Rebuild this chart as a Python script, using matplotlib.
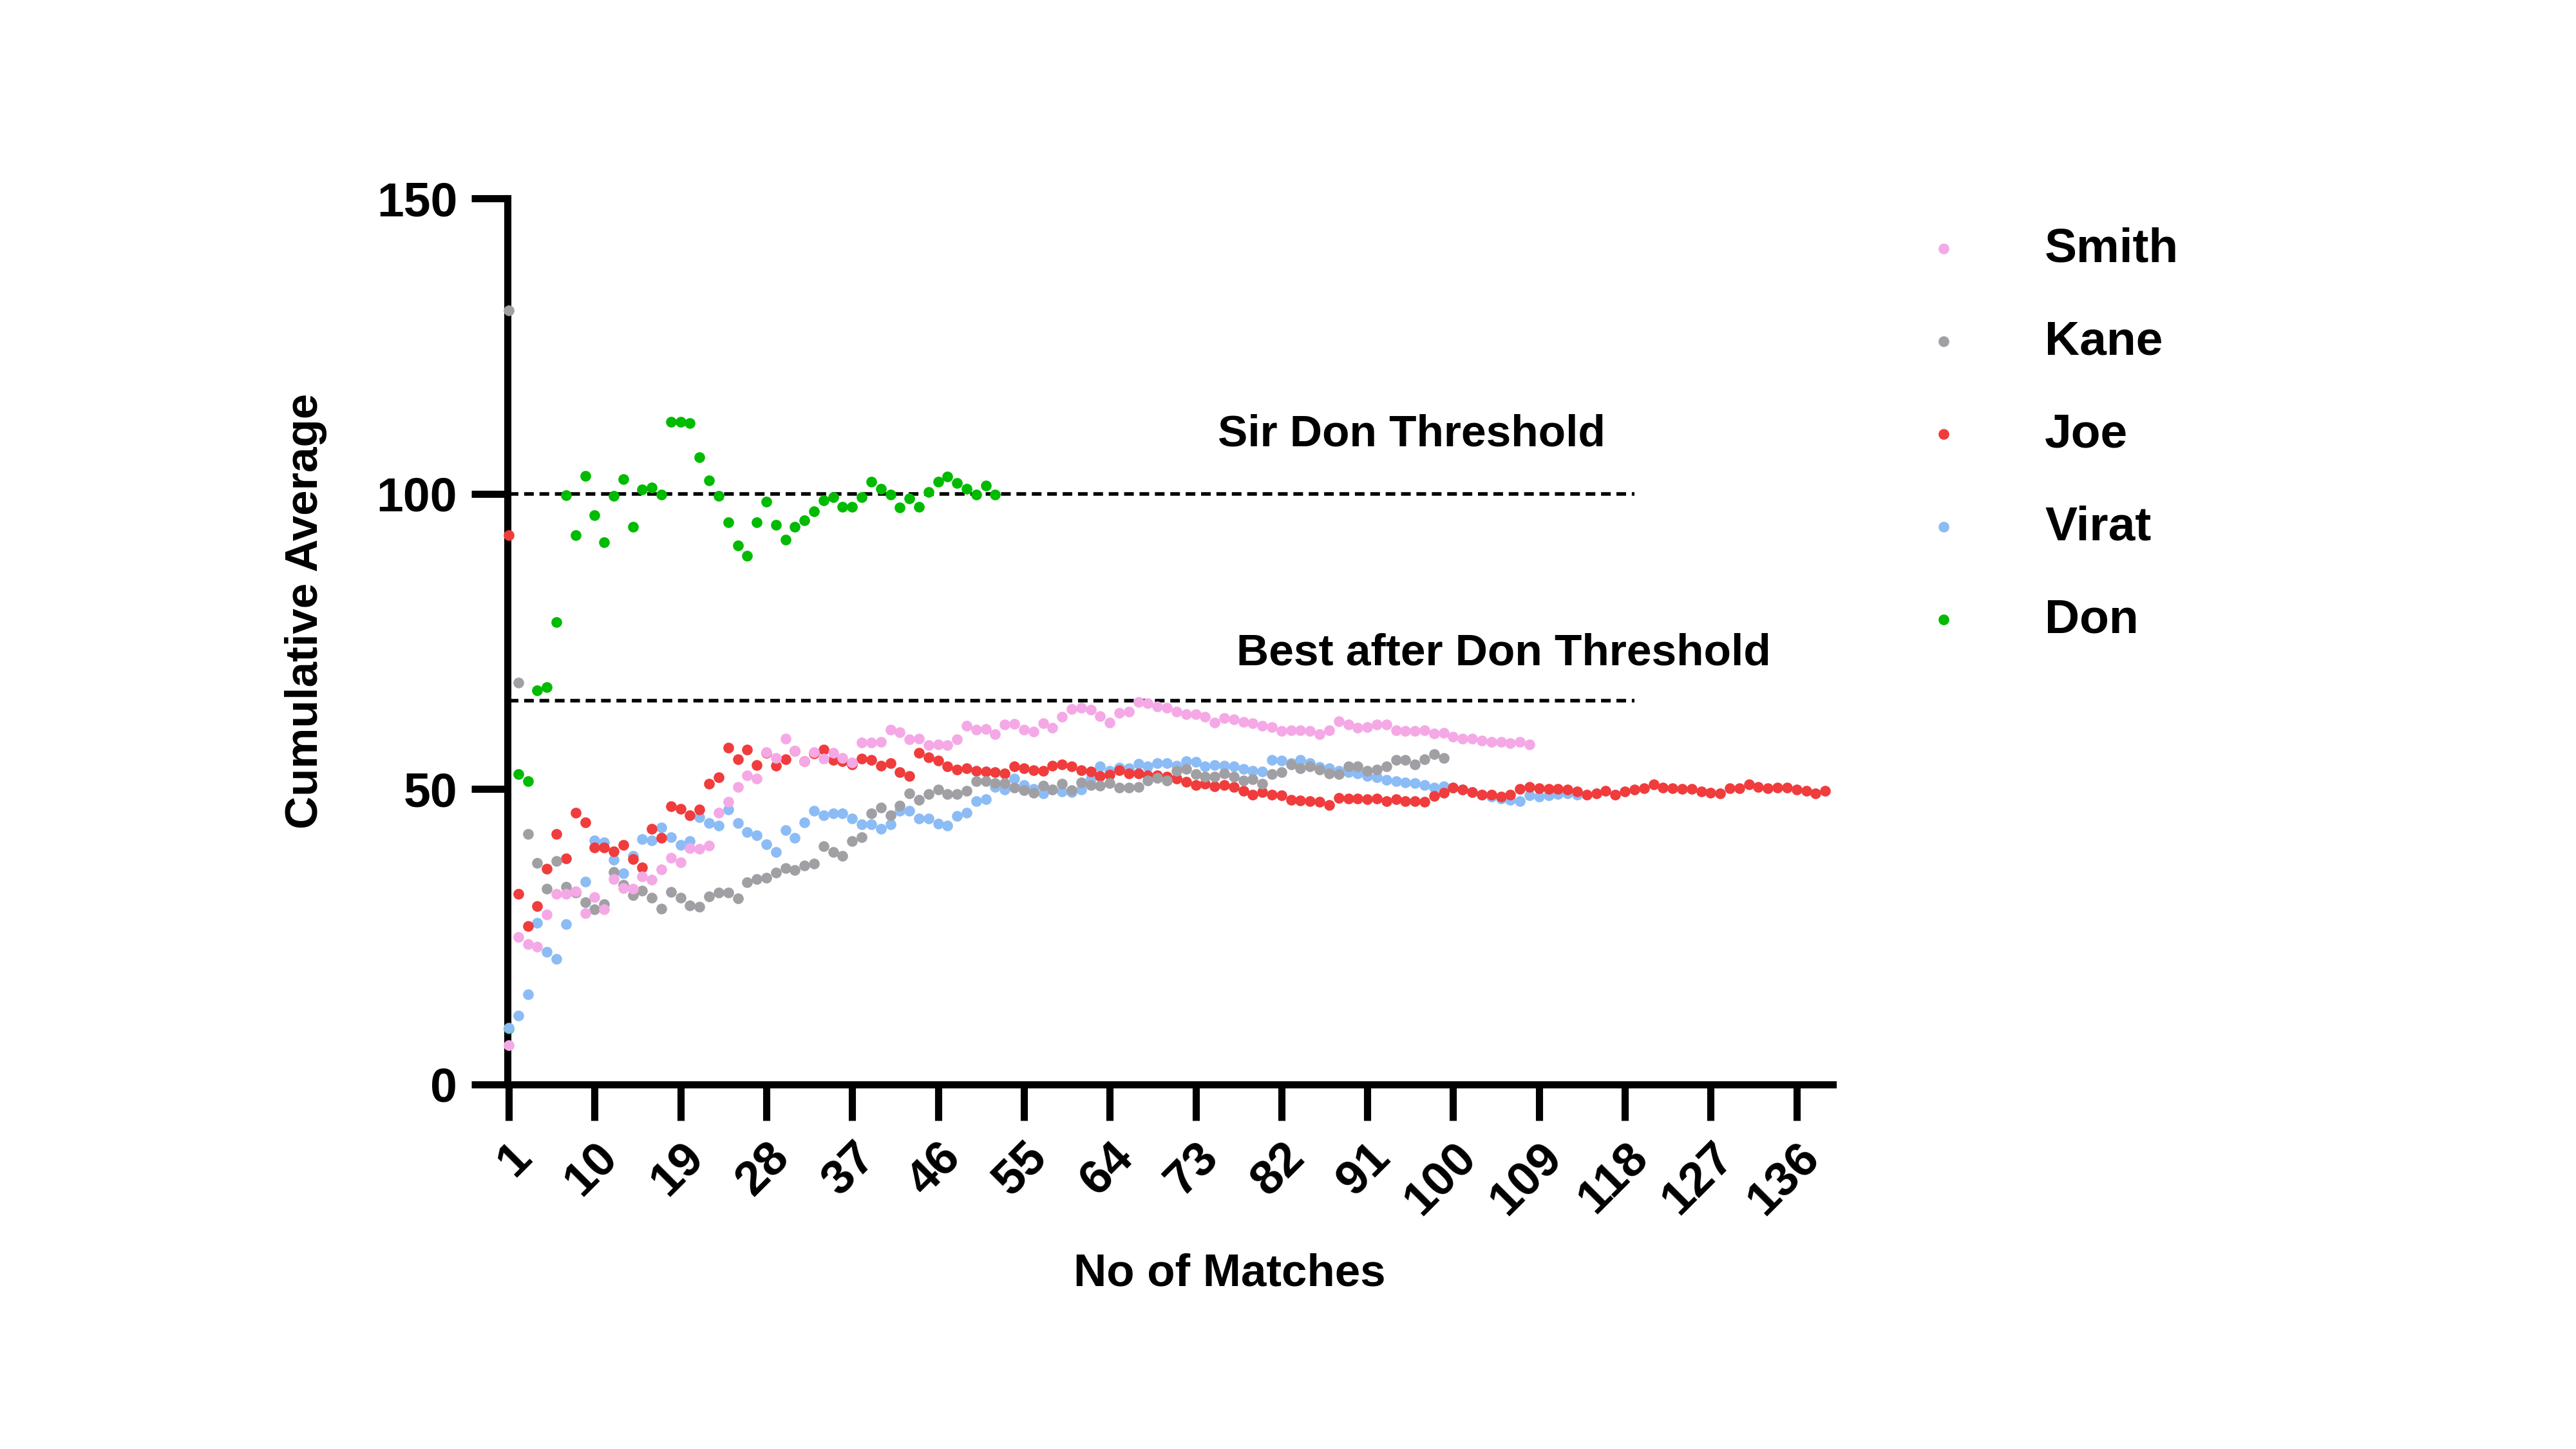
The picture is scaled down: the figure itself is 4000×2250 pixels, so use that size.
import matplotlib
matplotlib.use("Agg")
import matplotlib.pyplot as plt

plt.rcParams['font.family'] = ['Liberation Sans', 'DejaVu Sans']
plt.rcParams['font.weight'] = 'bold'

# cumulative batting average after each test match
smith = [6.6, 25.0, 23.8, 23.3, 28.8, 32.3, 32.3, 32.7, 29.0, 31.7,
         29.6, 34.8, 33.2, 33.1, 35.2, 34.7, 36.4, 38.4, 37.6, 40.0,
         39.9, 40.4, 46.0, 47.8, 50.4, 52.3, 51.8, 56.2, 55.3, 58.5,
         56.5, 54.7, 56.2, 55.2, 56.1, 55.3, 54.5, 57.9, 57.9, 58.0,
         60.1, 59.6, 58.4, 58.5, 57.4, 57.6, 57.4, 58.4, 60.7, 60.1,
         60.2, 59.3, 60.9, 61.0, 60.1, 59.7, 61.1, 60.4, 62.2, 63.5,
         63.8, 63.4, 62.3, 61.3, 62.9, 63.1, 64.7, 64.5, 64.0, 63.8,
         63.1, 62.7, 62.7, 62.2, 61.3, 62.0, 61.8, 61.4, 61.1, 60.7,
         60.5, 59.8, 60.0, 60.0, 59.8, 59.3, 60.0, 61.5, 60.9, 60.4,
         60.5, 60.9, 60.9, 60.0, 59.8, 59.8, 60.0, 59.4, 59.5, 58.9,
         58.5, 58.5, 58.2, 58.0, 58.0, 57.8, 58.0, 57.5]

kane = [131.0, 68.0, 42.4, 37.5, 33.1, 37.8, 33.5, 32.5, 30.8, 29.6,
        30.5, 36.0, 33.8, 32.0, 32.8, 31.6, 29.8, 32.6, 31.6, 30.3,
        30.1, 31.8, 32.5, 32.5, 31.5, 34.2, 34.8, 35.0, 35.9, 36.6,
        36.3, 37.1, 37.4, 40.3, 39.4, 38.7, 41.2, 41.9, 45.9, 46.9,
        45.6, 47.2, 49.3, 48.2, 49.2, 49.9, 49.2, 49.2, 49.7, 51.3,
        51.3, 51.0, 51.0, 50.3, 49.8, 49.4, 50.6, 49.9, 50.9, 49.8,
        51.1, 50.7, 50.6, 51.0, 50.2, 50.2, 50.4, 51.5, 51.9, 51.4,
        53.1, 53.4, 52.5, 52.1, 52.1, 52.7, 52.1, 51.5, 51.7, 50.9,
        52.5, 52.9, 54.2, 53.5, 53.9, 53.3, 52.7, 52.5, 53.9, 53.8,
        53.1, 53.3, 53.8, 54.9, 54.9, 54.2, 55.0, 55.9, 55.3]

joe = [93.0, 32.3, 26.8, 30.2, 36.5, 42.4, 38.3, 46.0, 44.4, 40.1,
       40.1, 39.5, 40.5, 38.2, 36.7, 43.3, 41.7, 47.1, 46.6, 45.6,
       46.5, 50.9, 52.0, 57.0, 55.0, 56.7, 54.1, 56.1, 54.0, 55.0,
       56.5, 54.7, 56.0, 56.7, 54.9, 54.7, 54.2, 55.2, 54.9, 54.0,
       54.4, 52.9, 52.2, 56.1, 55.4, 54.8, 53.9, 53.3, 53.5, 53.1,
       53.0, 52.9, 52.7, 53.8, 53.5, 53.2, 53.1, 54.0, 54.2, 53.8,
       53.2, 53.0, 52.2, 52.4, 53.2, 52.7, 52.6, 52.3, 52.3, 52.1,
       51.8, 51.2, 50.7, 50.9, 50.5, 50.7, 50.4, 49.7, 49.1, 49.5,
       49.0, 48.9, 48.2, 48.1, 48.0, 47.8, 47.3, 48.5, 48.4, 48.4,
       48.3, 48.4, 48.0, 48.3, 48.0, 48.0, 47.8, 48.8, 49.4, 50.2,
       49.9, 49.5, 49.1, 49.1, 48.7, 49.0, 50.0, 50.4, 50.1, 50.0,
       50.0, 49.9, 49.6, 49.1, 49.3, 49.7, 49.1, 49.6, 49.9, 50.1,
       50.8, 50.2, 50.1, 50.0, 50.0, 49.6, 49.4, 49.3, 50.1, 50.1,
       50.8, 50.4, 50.1, 50.2, 50.2, 49.9, 49.7, 49.3, 49.7]

virat = [9.6, 11.6, 15.2, 27.3, 22.4, 21.3, 27.1, 32.6, 34.3, 41.3,
         41.0, 38.0, 35.8, 38.7, 41.5, 41.3, 43.5, 41.9, 40.5, 41.2,
         45.2, 44.3, 43.8, 46.5, 44.3, 42.7, 42.2, 40.7, 39.4, 43.1,
         41.7, 44.4, 46.3, 45.6, 45.9, 45.9, 45.0, 44.0, 44.0, 43.3,
         44.0, 46.3, 46.3, 45.0, 45.0, 44.1, 43.8, 45.5, 46.0, 48.0,
         48.3, 50.4, 49.9, 51.8, 50.7, 50.0, 49.3, 49.9, 49.6, 49.5,
         49.9, 51.8, 53.8, 53.1, 53.6, 53.5, 54.3, 53.8, 54.4, 54.4,
         54.0, 54.7, 54.6, 53.9, 54.1, 54.0, 53.8, 53.4, 53.1, 53.0,
         54.9, 54.8, 54.4, 54.9, 54.4, 53.7, 53.5, 53.1, 52.9, 52.6,
         52.2, 52.0, 51.6, 51.3, 51.1, 51.0, 50.7, 50.3, 50.5, 50.2,
         49.9, 49.5, 49.1, 48.7, 48.4, 48.2, 48.0, 48.9, 48.7, 48.9,
         49.2, 49.3, 49.0]

don = [9.5, 52.5, 51.3, 66.7, 67.3, 78.3, 99.7, 93.0, 103.0, 96.4,
       91.8, 99.6, 102.5, 94.4, 100.7, 101.1, 99.8, 112.2, 112.2, 111.9,
       106.2, 102.3, 99.6, 95.2, 91.2, 89.5, 95.2, 98.6, 94.7, 92.2,
       94.4, 95.5, 97.0, 98.9, 99.4, 97.8, 97.8, 99.4, 102.0, 100.8,
       99.8, 97.7, 99.2, 97.8, 100.3, 102.0, 102.9, 101.8, 100.8, 99.8,
       101.4, 99.9]

names = ["Smith", "Kane", "Joe", "Virat", "Don"]
colors = ["#F5A8E6", "#A0A0A4", "#F03C3C", "#8CBCF5", "#00BB00"]
thresholds = [100, 65]
threshold_names = ["Sir Don Threshold", "Best after Don Threshold"]
x_ticks = list(range(1, 137, 9))

fig = plt.figure(figsize=(20, 11.25), dpi=200)
ax = fig.add_axes([0.197, 0.2516, 0.5145, 0.6115])

series = [smith, kane, joe, virat, don]
handles = []
for i, (name, vals, col) in enumerate(zip(names, series, colors)):
    xs = range(1, len(vals) + 1)
    h = ax.scatter(xs, vals, s=36, color=col, linewidths=0, label=name,
                   zorder=10 - i, clip_on=False)
    handles.append(h)

for t in thresholds:
    ax.plot([1, 119], [t, t], color="black", lw=2, ls="--",
            dashes=(2.7, 1.6), zorder=1)

ax.text(75.3, 110, threshold_names[0], fontsize=25, fontweight="bold",
        va="center", ha="left")
ax.text(77.3, 73, threshold_names[1], fontsize=25, fontweight="bold",
        va="center", ha="left")

ax.set_xlim(0.865, 139.8)
ax.set_ylim(0, 150)
ax.set_yticks([0, 50, 100, 150])
ax.set_xticks(x_ticks)

for side in ["top", "right"]:
    ax.spines[side].set_visible(False)
for side in ["left", "bottom"]:
    ax.spines[side].set_linewidth(4)

ax.tick_params(axis="both", direction="out", length=20, width=4,
               labelsize=27, pad=8)
for lab in ax.get_xticklabels():
    lab.set_rotation(45)
    lab.set_ha("right")
    lab.set_rotation_mode("anchor")
    lab.set_fontweight("bold")
for lab in ax.get_yticklabels():
    lab.set_fontweight("bold")

ax.set_ylabel("Cumulative Average", fontsize=25.5, fontweight="bold")
ax.yaxis.set_label_coords(-0.136, 0.534)
ax.set_xlabel("No of Matches", fontsize=25.5, fontweight="bold")
ax.xaxis.set_label_coords(0.545, -0.19)

fig.legend(handles=handles, labels=names, loc="upper left",
           bbox_to_anchor=(0.745, 0.8435), frameon=False,
           prop={"weight": "bold", "size": 27}, handlelength=1,
           handletextpad=1.6, labelspacing=1.0, borderpad=0,
           borderaxespad=0)

fig.savefig("out.png", dpi=200, facecolor="white")
